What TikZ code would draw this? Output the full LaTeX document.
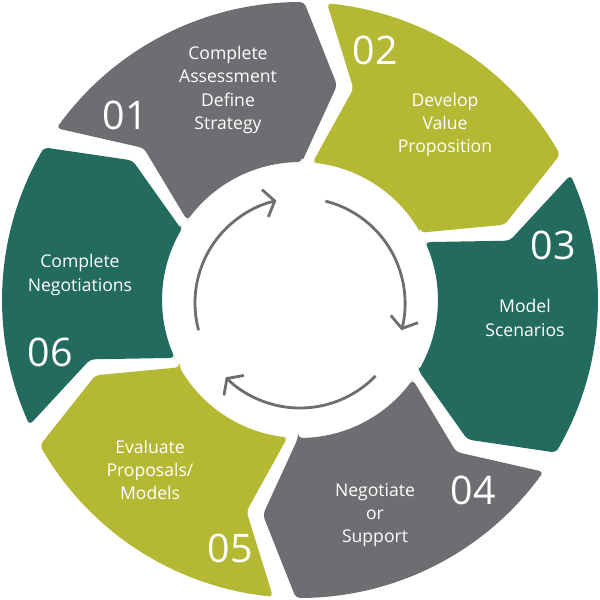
\documentclass[tikz,border=0pt]{standalone}
\usepackage{fontspec}
\setmainfont{Open Sans}
\usetikzlibrary{arrows.meta}
\definecolor{cgray}{HTML}{6D6E71}
\definecolor{colive}{HTML}{B5B833}
\definecolor{cteal}{HTML}{236B5E}
\newcommand{\seg}[2]{% #1 start boundary, #2 colour
 \pgfmathsetmacro{\bs}{#1}\pgfmathsetmacro{\be}{#1-60}
 \fill[#2,rounded corners=3pt] plot[domain={\bs-2.2}:{\be+2.2},samples=40] (\x:298)
   -- ({\be+2.2-9}:218) -- ({\be+2.2}:138)
   -- plot[domain={\be+2.2}:{\bs-2.2},samples=40] (\x:138)
   -- ({\bs-2.2-9}:218) -- cycle;}
\tikzset{lbl/.style={text=white,align=center,font=\fontsize{12.5}{16.5}\selectfont},
 num/.style={text=white,font=\fontsize{28}{30}\selectfont},
 carrow/.style={cgray,line width=2pt,-{Straight Barb[length=7pt,width=20pt,line width=2pt]}}}
\begin{document}
\begin{tikzpicture}[x=0.025cm,y=0.025cm]
\useasboundingbox (-300,-300) rectangle (300,300);
\seg{147}{cgray}
\seg{87}{colive}
\seg{27}{cteal}
\seg{-33}{cgray}
\seg{-93}{colive}
\seg{-153}{cteal}
\coordinate (c) at (0,-3);
\draw[carrow] ([shift={(195:105)}]c) arc[start angle=195,end angle=103,radius=2.625cm] coordinate (a1);
\draw[carrow] ([shift={(76:105)}]c) arc[start angle=76,end angle=-15,radius=2.625cm] coordinate (a2);
\draw[carrow] ([shift={(-44:105)}]c) arc[start angle=-44,end angle=-135,radius=2.625cm] coordinate (a3);
\node[num] (n1) at (-175,185) {01};
\node[lbl] (t1) at (-72,210) {Complete\\Assessment\\Define\\Strategy};
\node[num] (n2) at (75,250) {02};
\node[lbl] (t2) at (145,175) {Develop\\Value\\Proposition};
\node[num] (n3) at (253,55) {03};
\node[lbl] (t3) at (225,-18) {Model\\Scenarios};
\node[num] (n4) at (173,-190) {04};
\node[lbl] (t4) at (75,-215) {Negotiate\\or\\Support};
\node[num] (n5) at (-70,-248) {05};
\node[lbl] (t5) at (-150,-170) {Evaluate\\Proposals/\\Models};
\node[lbl] (t6) at (-220,25) {Complete\\Negotiations};
\node[num] (n6) at (-250,-52) {06};
\end{tikzpicture}
\end{document}
